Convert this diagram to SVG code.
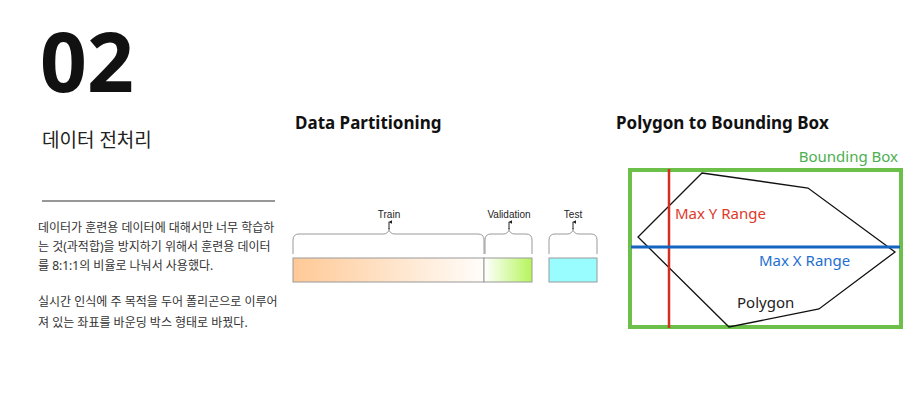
<svg xmlns="http://www.w3.org/2000/svg" width="918" height="403" viewBox="0 0 918 403">
<style>
text{font-family:"Noto Sans","Noto Sans CJK KR",sans-serif}
.sm{font-family:"Liberation Sans",sans-serif;font-size:10px;fill:#222}
.br{fill:none;stroke:#999;stroke-width:1}
.p{font-size:12px;fill:#333}
</style>
<defs>
<linearGradient id="gt" x1="0" x2="1"><stop offset="0" stop-color="#ffc996"/><stop offset="1" stop-color="#fffdfa"/></linearGradient>
<linearGradient id="gv" x1="0" x2="1"><stop offset="0" stop-color="#ffffff"/><stop offset="1" stop-color="#b6f55a"/></linearGradient>
<marker id="ah" viewBox="0 0 6 6" refX="3" refY="1" markerWidth="4" markerHeight="4" orient="auto-start-reverse"><path d="M0,6 L3,0 L6,6 z" fill="#222"/></marker>
</defs>
<rect width="918" height="403" fill="#fff"/>
<g id="title">
<text x="40" y="92" font-size="82" font-weight="bold" fill="#111">02</text>
<text x="42" y="147" font-size="19" fill="#222">데이터 전처리</text>
<line x1="42" y1="201" x2="275" y2="201" stroke="#333" stroke-width="1.2"/>
<text class="p" x="38" y="232">데이터가 훈련용 데이터에 대해서만 너무 학습하</text>
<text class="p" x="38" y="251">는 것(과적합)을 방지하기 위해서 훈련용 데이터</text>
<text class="p" x="38" y="270">를 8:1:1의 비율로 나눠서 사용했다.</text>
<text class="p" x="38" y="306">실시간 인식에 주 목적을 두어 폴리곤으로 이루어</text>
<text class="p" x="38" y="327">져 있는 좌표를 바운딩 박스 형태로 바꿨다.</text>
</g>
<text x="295" y="129" font-size="17" font-weight="bold" fill="#111">Data Partitioning</text>
<text x="616" y="129" font-size="17" font-weight="bold" fill="#111">Polygon to Bounding Box</text>
<g id="train">
<rect x="293" y="258" width="191" height="24" fill="url(#gt)" stroke="#999"/>
<text class="sm" x="389" y="218" text-anchor="middle">Train</text>
</g>
<g id="validation">
<rect x="484" y="258" width="48" height="24" fill="url(#gv)" stroke="#999"/>
<text class="sm" x="509" y="218" text-anchor="middle">Validation</text>
</g>
<g id="test">
<rect x="549" y="258" width="48" height="24" fill="#99fdff" stroke="#999"/>
<text class="sm" x="573" y="218" text-anchor="middle">Test</text>
</g>
<g id="connectors">
<path class="br" d="M293,254 V240 Q293,234 299,234 H383 Q389,234 389,228 Q389,234 395,234 H478 Q484,234 484,240 V254"/>
<path class="br" d="M485,254 V240 Q485,234 491,234 H503 Q509,234 509,228 Q509,234 515,234 H526 Q532,234 532,240 V254"/>
<path class="br" d="M549,254 V240 Q549,234 555,234 H567 Q573,234 573,228 Q573,234 579,234 H591 Q597,234 597,240 V254"/>
<line x1="389" y1="229" x2="389" y2="222" stroke="#222" marker-end="url(#ah)"/>
<line x1="509" y1="229" x2="509" y2="222" stroke="#222" marker-end="url(#ah)"/>
<line x1="573" y1="229" x2="573" y2="222" stroke="#222" marker-end="url(#ah)"/>
</g>
<g id="bbox">
<rect x="630" y="170" width="271" height="157" fill="none" stroke="#6cc04a" stroke-width="4"/>
<text x="898" y="162" font-size="15" fill="#4caf50" text-anchor="end">Bounding Box</text>
</g>
<g id="polygon">
<polygon points="702,173 808,188 895,252 819,309 729,327 638,237" fill="none" stroke="#111" stroke-width="1.3"/>
<text x="737" y="308" font-size="15" fill="#222">Polygon</text>
</g>
<g id="ranges">
<line x1="669" y1="169" x2="669" y2="328" stroke="#d32f1f" stroke-width="2.5"/>
<line x1="631" y1="247" x2="900" y2="247" stroke="#1565c0" stroke-width="3"/>
<text x="675" y="219" font-size="15" fill="#e0392b">Max Y Range</text>
<text x="759" y="266" font-size="15" fill="#1e6fd0">Max X Range</text>
</g>
</svg>
